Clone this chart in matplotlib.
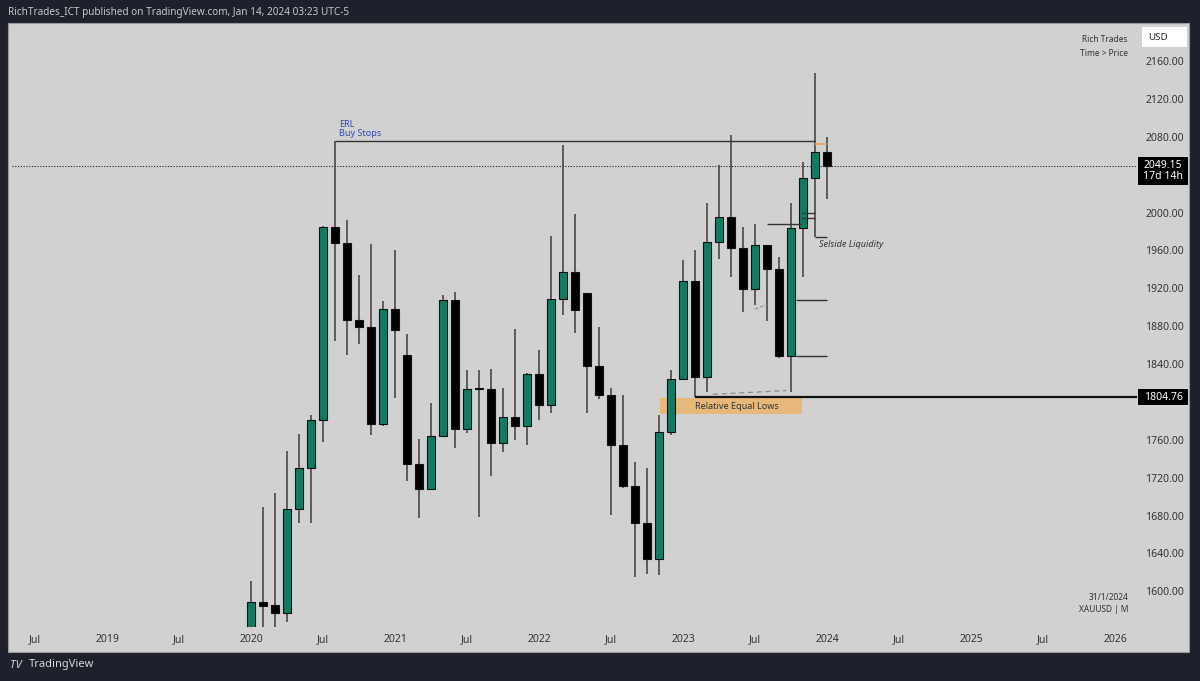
import matplotlib
matplotlib.use("Agg")
import matplotlib.pyplot as plt
from matplotlib.patches import Rectangle
from matplotlib.transforms import blended_transform_factory

plt.rcParams['font.family'] = ['Noto Sans', 'DejaVu Sans']

# monthly XAUUSD candles, Jan 2020 .. Jan 2024 (x = months since Jan 2020)
opens = [1517, 1589, 1586, 1577, 1687, 1730, 1781, 1985, 1968, 1886, 1879, 1777,
         1898, 1849, 1734, 1708, 1764, 1908, 1771, 1814, 1814, 1757, 1784, 1775,
         1829, 1797, 1909, 1937, 1915, 1838, 1807, 1755, 1711, 1672, 1634, 1768,
         1824, 1928, 1826, 1969, 1995, 1962, 1919, 1966, 1940, 1848, 1984, 2036,
         2064]
highs = [1611, 1689, 1704, 1748, 1766, 1786, 1986, 2075, 1992, 1934, 1967, 1907,
         1960, 1872, 1761, 1799, 1913, 1916, 1834, 1834, 1835, 1815, 1877, 1831,
         1855, 1975, 2071, 1998, 1915, 1879, 1815, 1807, 1737, 1730, 1786, 1834,
         1950, 1960, 2010, 2050, 2082, 1985, 1988, 1966, 1953, 2010, 2053, 2147,
         2080]
lows = [1517, 1548, 1451, 1568, 1672, 1672, 1758, 1864, 1849, 1861, 1765, 1775,
        1804, 1717, 1677, 1707, 1764, 1751, 1767, 1678, 1722, 1747, 1760, 1755,
        1781, 1788, 1892, 1873, 1788, 1803, 1681, 1709, 1615, 1618, 1617, 1765,
        1823, 1805, 1810, 1951, 1932, 1895, 1902, 1885, 1846, 1810, 1932, 1974,
        2014]
closes = [1589, 1585, 1577, 1687, 1730, 1781, 1985, 1968, 1886, 1879, 1777, 1898,
          1876, 1734, 1708, 1764, 1908, 1771, 1814, 1814, 1757, 1784, 1775, 1829,
          1797, 1909, 1937, 1897, 1838, 1807, 1755, 1711, 1672, 1634, 1768, 1824,
          1928, 1826, 1969, 1995, 1962, 1919, 1966, 1940, 1848, 1984, 2036, 2064,
          2049.15]

time_ticks = [-18, -12, -6, 0, 6, 12, 18, 24, 30, 36, 42, 48, 54, 60, 66, 72]
time_labels = ['Jul', '2019', 'Jul', '2020', 'Jul', '2021', 'Jul', '2022', 'Jul',
               '2023', 'Jul', '2024', 'Jul', '2025', 'Jul', '2026']
price_ticks = [1600, 1640, 1680, 1720, 1760, 1840, 1880, 1920, 1960, 2000,
               2080, 2120, 2160]

last_price = 2049.15
eq_lows = 1804.76
erl_level = 2075
sellside_lines = [(45.4, 48.0, 1908), (45.4, 48.0, 1848), (45.9, 47.0, 2000),
                  (45.9, 47.0, 1994), (47.0, 48.0, 1974), (43.0, 45.9, 1988)]

W, H = 1200, 681
BG = '#1e212b'
PANEL = '#d1d1d1'
GREEN = '#137a61'


def fx(x):
    return x / W


def fy(y):
    return 1 - y / H


fig = plt.figure(figsize=(12, 6.81), dpi=100, facecolor=BG)

# light chart panel
fig.add_artist(Rectangle((fx(8), fy(652)), fx(1181), 629 / H, transform=fig.transFigure,
                         facecolor=PANEL, edgecolor='#9a9a9a', lw=0.8, zorder=0))

ax = fig.add_axes([fx(12), fy(627), fx(1125), (627 - 25) / H])
ax.set_facecolor(PANEL)
for s in ax.spines.values():
    s.set_visible(False)
ax.set_xlim(-19.92, 73.83)
ax.set_ylim(1562.3, 2198.0)

# candles
for i in range(len(opens)):
    o, h, l, c = opens[i], highs[i], lows[i], closes[i]
    ax.vlines(i, l, h, color='#3c3c3c', lw=1.1, zorder=2)
    col = GREEN if c > o else '#000000'
    body = max(abs(c - o), 1.2)
    ax.add_patch(Rectangle((i - 0.37, min(o, c)), 0.74, body, facecolor=col,
                           edgecolor='#111111', lw=0.8, zorder=3))

# ERL buy stops
ax.hlines(erl_level, 7, 47, color='#333333', lw=1.0, zorder=4)
ax.hlines(2072, 47, 48, color='#e8a060', lw=1.2, zorder=4)
ax.text(7.3, erl_level + 4, 'ERL\nBuy Stops', color='#3348b0', fontsize=6.5,
        va='bottom', ha='left', linespacing=0.95)

# current price dotted line
ax.axhline(last_price, color='#222222', lw=0.8, ls=(0, (1, 1.5)), zorder=1)

# relative equal lows
ax.hlines(eq_lows, 37, 73.83, color='#111111', lw=1.6, zorder=4)
ax.plot([38.5, 44.6], [1808, 1812], color='#8a8a8a', lw=0.9, ls=(0, (4, 3)), zorder=4)
ax.add_patch(Rectangle((34.1, 1787), 11.8, 17, facecolor='#e8b87a', edgecolor='none',
                       zorder=1))
ax.text(40.5, 1795.5, 'Relative Equal Lows', fontsize=6.5, color='#333333',
        ha='center', va='center', fontweight='bold', zorder=5)

# sellside liquidity
for x0, x1, yv in sellside_lines:
    ax.hlines(yv, x0, x1, color='#333333', lw=1.0, zorder=4)
ax.plot([42.0, 43.0], [1898, 1903], color='#8a8a8a', lw=0.8, ls=(0, (3, 2)), zorder=4)
ax.text(47.3, 1966, 'Selside Liquidity', fontsize=6.5, color='#333333',
        style='italic', ha='left', va='center', zorder=5)

# axes ticks
ax.set_xticks(time_ticks)
ax.set_xticklabels(time_labels)
ax.tick_params(axis='x', length=0, pad=5, labelsize=7.5, colors='#333333')
for lab in ax.get_xticklabels():
    if lab.get_text() != 'Jul':
        lab.set_fontweight('bold')
ax.yaxis.tick_right()
ax.set_yticks(price_ticks)
ax.set_yticklabels([f'{p:.2f}' for p in price_ticks])
ax.tick_params(axis='y', length=0, pad=6, labelsize=7.5, colors='#333333')

# price labels on the scale
bt = blended_transform_factory(ax.transAxes, ax.transData)
x_lab = (1138 - 12) / 1125
w_lab = 50 / 1125
ppx = (2198.0 - 1562.3) / 602
ax.add_patch(Rectangle((x_lab, last_price - 19 * ppx), w_lab, 28 * ppx, transform=bt,
                       facecolor='#000000', clip_on=False, zorder=6))
ax.text(x_lab + w_lab / 2, last_price - 5 * ppx, f'{last_price:.2f}\n17d 14h', transform=bt,
        color='white', fontsize=7.5, fontweight='bold', ha='center', va='center',
        linespacing=1.05, clip_on=False, zorder=7)
ax.add_patch(Rectangle((x_lab, eq_lows - 8 * ppx), w_lab, 16 * ppx, transform=bt,
                       facecolor='#000000', clip_on=False, zorder=6))
ax.text(x_lab + w_lab / 2, eq_lows, f'{eq_lows:.2f}', transform=bt, color='white',
        fontsize=7.5, fontweight='bold', ha='center', va='center', clip_on=False, zorder=7)

# header / footer text
fig.text(fx(8), fy(12), 'RichTrades_ICT published on TradingView.com, Jan 14, 2024 03:23 UTC-5',
         color='#c8c8c8', fontsize=7.2, ha='left', va='center')
fig.text(fx(10), fy(665), 'TV', color='#d8d8d8', fontsize=8, fontweight='bold',
         ha='left', va='center', style='italic')
fig.text(fx(29), fy(665), 'TradingView', color='#d8d8d8', fontsize=8, ha='left', va='center')

fig.text(fx(1128), fy(39), 'Rich Trades', color='#333333', fontsize=6, ha='right', va='center')
fig.text(fx(1128), fy(54), 'Time > Price', color='#333333', fontsize=6, ha='right', va='center')
fig.text(fx(1128), fy(597), '31/1/2024', color='#333333', fontsize=6, ha='right', va='center')
fig.text(fx(1128), fy(610), 'XAUUSD | M', color='#333333', fontsize=6, ha='right', va='center')

fig.add_artist(Rectangle((fx(1142), fy(47)), fx(45), 20 / H, transform=fig.transFigure,
                         facecolor='white', edgecolor='none', zorder=5))
fig.text(fx(1158), fy(37), 'USD', color='#333333', fontsize=7, ha='center', va='center',
         zorder=6)

fig.savefig('out.png', dpi=100, facecolor=BG)
